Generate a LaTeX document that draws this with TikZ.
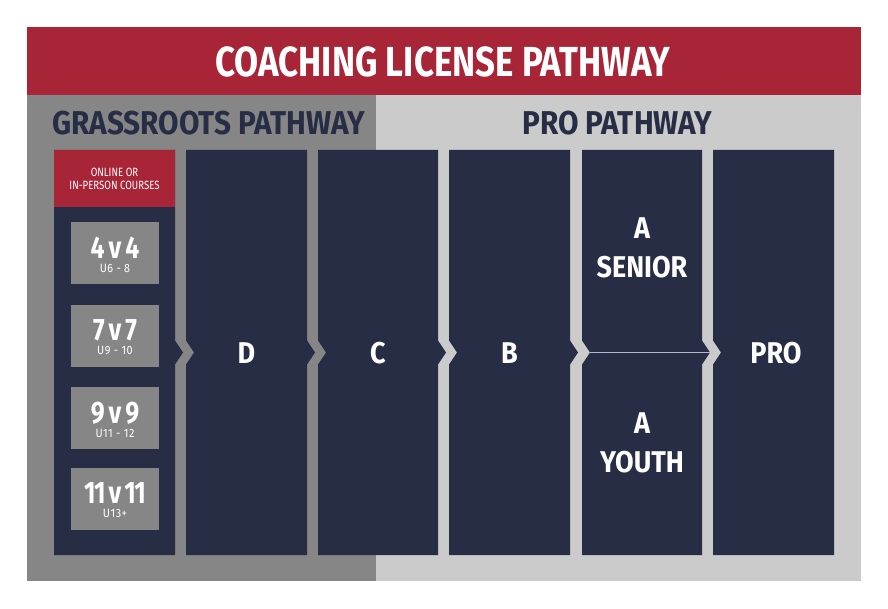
\documentclass[tikz,border=0pt]{standalone}
\usepackage{fontspec}
\newfontfamily\cond[FakeStretch=0.8]{Fira Sans}
\newfontfamily\condt[FakeStretch=0.83]{Fira Sans}
\newfontfamily\condw[FakeStretch=0.9]{Fira Sans}
\newfontfamily\condage[FakeStretch=0.9,LetterSpace=4]{Fira Sans}
\definecolor{cred}{HTML}{A82437}
\definecolor{cnavy}{HTML}{272D45}
\definecolor{cdgrey}{HTML}{868686}
\definecolor{clgrey}{HTML}{CBCBCB}
\definecolor{cline}{HTML}{B4B8C8}
\newcommand\colpath[4]{\fill[cnavy] (#1,150) -- (#2,150) -- (#2,340.5) -- ++(#4,12) -- (#2,364.5) -- (#2,555) -- (#1,555) -- (#1,364.5) -- ++(#3,-12) -- (#1,340.5) -- cycle;}
\newcommand\bignum[1]{{\cond\bfseries\fontsize{31}{14}\selectfont #1}}
\tikzset{
  title/.style={text=white,font=\condt\bfseries\fontsize{42}{46}\selectfont,inner sep=0pt},
  section/.style={text=cnavy,font=\condw\bfseries\fontsize{33}{36}\selectfont,inner sep=0pt},
  level/.style={text=white,font=\condw\bfseries\fontsize{30}{37}\selectfont,inner sep=0pt,align=center},
  agebox/.style={fill=cdgrey,minimum width=88pt,minimum height=62pt,inner sep=0pt,anchor=north west},
  numtext/.style={text=white,font=\condage\fontsize{12}{14}\selectfont,inner sep=0pt,align=center,anchor=north},
  small/.style={text=white,font=\cond\fontsize{12}{13}\selectfont,inner sep=0pt,align=center},
}
\begin{document}
\begin{tikzpicture}[x=1pt,y=-1pt]
\useasboundingbox (0,0) rectangle (888,609);
% backgrounds
\fill[cdgrey] (27,95) rectangle (376,581);
\fill[clgrey] (376,95) rectangle (861,581);
\fill[cred] (27,27) rectangle (861,95);
\node[title] (t) at (443,62) {COACHING LICENSE PATHWAY};
\node[section] (g) at (208.5,123.5) {GRASSROOTS PATHWAY};
\node[section] (p) at (617.5,123.5) {PRO PATHWAY};
% columns
\colpath{54}{175}{0}{8}
\colpath{186}{307}{8}{8}
\colpath{318}{438}{8}{8}
\colpath{449}{570}{8}{8}
\colpath{582}{702}{8}{8}
\colpath{713}{834}{8}{0}
% red header box
\fill[cred] (54,150) rectangle (175,207);
\node[small] (on) at (114.5,179) {ONLINE OR\\IN-PERSON COURSES};
% age boxes
\node[agebox] (b1) at (71,222) {};
\node[agebox] (b2) at (71,305) {};
\node[agebox] (b3) at (71,387) {};
\node[agebox] (b4) at (71,468) {};
\node[numtext] (n1) at (115,236.5) {\bignum{4\kern4pt v\kern4pt 4}\\U6 - 8};
\node[numtext] (n2) at (115,319.5) {\bignum{7\kern4pt v\kern4pt 7}\\U9 - 10};
\node[numtext] (n3) at (115,401.5) {\bignum{9\kern4pt v\kern4pt 9}\\U11 - 12};
\node[numtext] (n4) at (115,482.5) {\bignum{1\kern-1.5pt 1\kern3pt v\kern3pt 1\kern-1.5pt 1}\\U13+};
% level labels
\node[level] (d) at (246.5,353) {D};
\node[level] (c) at (378,353) {C};
\node[level] (b) at (509.5,353) {B};
\node[level] (pro) at (776,353) {PRO};
\node[level] (as) at (642,248) {A\\[2pt]SENIOR};
\node[level] (ay) at (642,443) {A\\[2pt]YOUTH};
% separator in A column
\coordinate (sl) at (590,352.5);
\coordinate (sr) at (710,352.5);
\draw[cline,line width=1.2pt] (sl) -- (sr);
\end{tikzpicture}
\end{document}
